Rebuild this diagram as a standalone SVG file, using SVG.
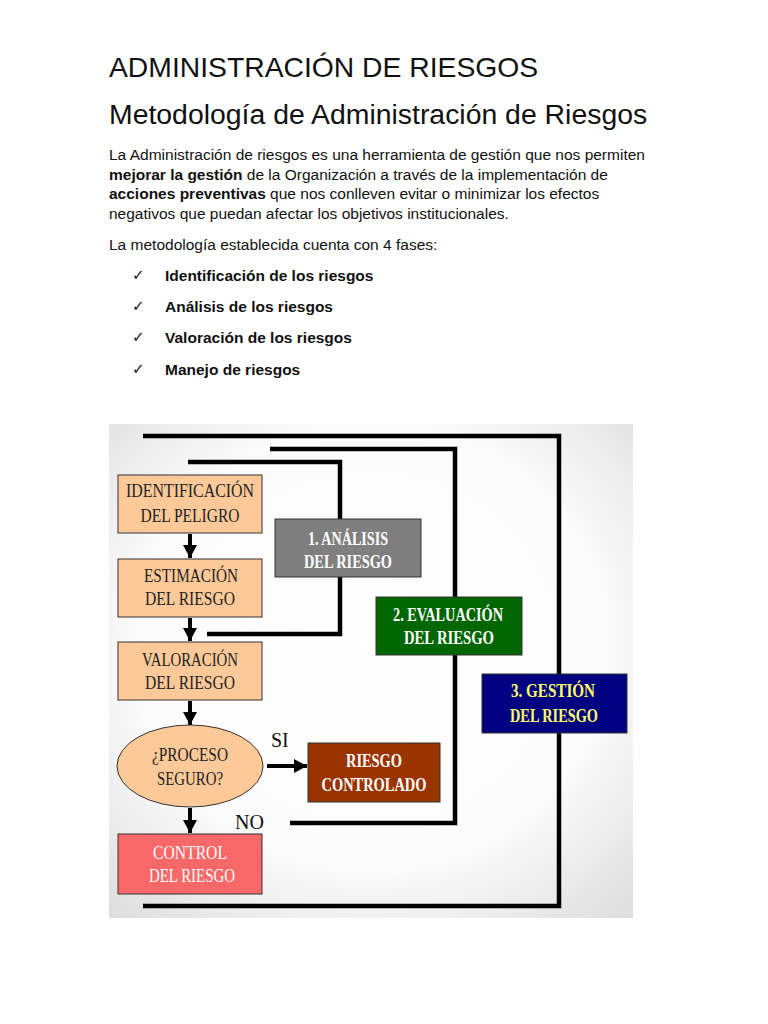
<svg xmlns="http://www.w3.org/2000/svg" width="768" height="1024" viewBox="0 0 768 1024">
<defs>
<style>
.h{font-family:"Liberation Sans",Arial,sans-serif;fill:#111;}
.p{font-family:"Liberation Sans",Arial,sans-serif;font-size:15.5px;fill:#111;}
.b{font-weight:bold;}
.ck{font-family:"DejaVu Sans",sans-serif;font-size:15px;fill:#111;}
.box{stroke:#333;stroke-width:1;}
.t{font-family:"Liberation Serif","Times New Roman",serif;font-size:18px;text-anchor:middle;}
.tb{font-weight:bold;}
.lbl{font-family:"Liberation Serif","Times New Roman",serif;font-size:20px;fill:#111;}
.ln{fill:none;stroke:#000;stroke-width:4.5;stroke-linejoin:miter;}
.ar{fill:none;stroke:#000;stroke-width:4;}
</style>
<radialGradient id="bg" cx="0.5" cy="0.45" r="0.75">
<stop offset="0" stop-color="#ffffff"/>
<stop offset="0.6" stop-color="#fbfbfb"/>
<stop offset="1" stop-color="#dcdcdc"/>
</radialGradient>
<marker id="ah" markerUnits="userSpaceOnUse" markerWidth="14" markerHeight="14" refX="13" refY="7" orient="auto">
<path d="M0,0 L13,7 L0,14 Z" fill="#000"/>
</marker>
</defs>
<rect width="768" height="1024" fill="#fff"/>
<text class="h" x="109" y="77" font-size="28.3">ADMINISTRACIÓN DE RIESGOS</text>
<text class="h" x="109" y="124" font-size="28.4">Metodología de Administración de Riesgos</text>
<text class="p" x="109" y="160">La Administración de riesgos es una herramienta de gestión que nos permiten</text>
<text class="p" x="109" y="180"><tspan class="b">mejorar la gestión</tspan> de la Organización a través de la implementación de</text>
<text class="p" x="109" y="199"><tspan class="b">acciones preventivas</tspan> que nos conlleven evitar o minimizar los efectos</text>
<text class="p" x="109" y="219">negativos que puedan afectar los objetivos institucionales.</text>
<text class="p" x="109" y="250">La metodología establecida cuenta con 4 fases:</text>
<text class="ck" x="132" y="280">✓</text>
<text class="p b" x="165" y="281">Identificación de los riesgos</text>
<text class="ck" x="132" y="311">✓</text>
<text class="p b" x="165" y="312">Análisis de los riesgos</text>
<text class="ck" x="132" y="342">✓</text>
<text class="p b" x="165" y="343">Valoración de los riesgos</text>
<text class="ck" x="132" y="374">✓</text>
<text class="p b" x="165" y="375">Manejo de riesgos</text>

<rect x="109" y="424" width="524" height="494" fill="url(#bg)"/>

<g id="connectors">
<polyline class="ln" points="143,436 559,436 559,906 143,906"/>
<polyline class="ln" points="270,449 455,449 455,823 290,823"/>
<polyline class="ln" points="188,462 340,462 340,634 207,634"/>
<line class="ar" x1="190" y1="534" x2="190" y2="558" marker-end="url(#ah)"/>
<line class="ar" x1="190" y1="618" x2="190" y2="641" marker-end="url(#ah)"/>
<line class="ar" x1="190" y1="701" x2="190" y2="725" marker-end="url(#ah)"/>
<line class="ar" x1="190" y1="808" x2="190" y2="833" marker-end="url(#ah)"/>
<line class="ar" x1="267" y1="766" x2="307" y2="766" marker-end="url(#ah)"/>
<text class="lbl" x="271" y="747">SI</text>
<text class="lbl" x="235" y="829">NO</text>
</g>

<g id="identificacion">
<rect class="box" x="118" y="475" width="144" height="58" fill="#fdc998"/>
<text class="t" x="190" y="497" fill="#222" textLength="128" lengthAdjust="spacingAndGlyphs">IDENTIFICACIÓN</text>
<text class="t" x="190" y="522" fill="#222" textLength="99" lengthAdjust="spacingAndGlyphs">DEL PELIGRO</text>
</g>
<g id="estimacion">
<rect class="box" x="118" y="559" width="144" height="58" fill="#fdc998"/>
<text class="t" x="191" y="582" fill="#222" textLength="94" lengthAdjust="spacingAndGlyphs">ESTIMACIÓN</text>
<text class="t" x="190" y="605" fill="#222" textLength="90" lengthAdjust="spacingAndGlyphs">DEL RIESGO</text>
</g>
<g id="valoracion">
<rect class="box" x="118" y="642" width="144" height="58" fill="#fdc998"/>
<text class="t" x="190" y="666" fill="#222" textLength="96" lengthAdjust="spacingAndGlyphs">VALORACIÓN</text>
<text class="t" x="190" y="689" fill="#222" textLength="90" lengthAdjust="spacingAndGlyphs">DEL RIESGO</text>
</g>
<g id="proceso">
<ellipse class="box" cx="190" cy="766" rx="73" ry="41" fill="#fdc998"/>
<text class="t" x="190" y="761" fill="#222" textLength="76" lengthAdjust="spacingAndGlyphs">¿PROCESO</text>
<text class="t" x="190" y="785" fill="#222" textLength="66" lengthAdjust="spacingAndGlyphs">SEGURO?</text>
</g>
<g id="control">
<rect class="box" x="118" y="834" width="144" height="60" fill="#f86868"/>
<text class="t" x="190" y="859" fill="#fff" textLength="74" lengthAdjust="spacingAndGlyphs">CONTROL</text>
<text class="t" x="192" y="882" fill="#fff" textLength="86" lengthAdjust="spacingAndGlyphs">DEL RIESGO</text>
</g>
<g id="controlado">
<rect class="box" x="308" y="743" width="132" height="59" fill="#993300"/>
<text class="t tb" x="374" y="767" fill="#fff" textLength="56" lengthAdjust="spacingAndGlyphs">RIESGO</text>
<text class="t tb" x="374" y="791" fill="#fff" textLength="105" lengthAdjust="spacingAndGlyphs">CONTROLADO</text>
</g>
<g id="analisis">
<rect class="box" x="275" y="519" width="146" height="58" fill="#7f7f7f"/>
<text class="t tb" x="348" y="545" fill="#fff" textLength="80" lengthAdjust="spacingAndGlyphs">1. ANÁLISIS</text>
<text class="t tb" x="348" y="568" fill="#fff" textLength="88" lengthAdjust="spacingAndGlyphs">DEL RIESGO</text>
</g>
<g id="evaluacion">
<rect class="box" x="376" y="597" width="146" height="58" fill="#006600"/>
<text class="t tb" x="448" y="621" fill="#fff" textLength="110" lengthAdjust="spacingAndGlyphs">2. EVALUACIÓN</text>
<text class="t tb" x="449" y="644" fill="#fff" textLength="90" lengthAdjust="spacingAndGlyphs">DEL RIESGO</text>
</g>
<g id="gestion">
<rect class="box" x="482" y="674" width="145" height="59" fill="#000080"/>
<text class="t tb" x="553" y="697" fill="#ffff66" textLength="84" lengthAdjust="spacingAndGlyphs">3. GESTIÓN</text>
<text class="t tb" x="554" y="722" fill="#ffff66" textLength="88" lengthAdjust="spacingAndGlyphs">DEL RIESGO</text>
</g>
</svg>
